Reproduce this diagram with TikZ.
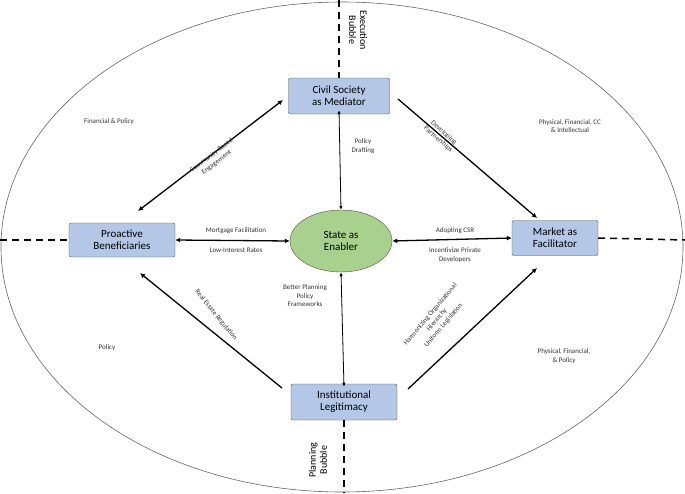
\documentclass[tikz,border=0pt]{standalone}
\usepackage{fontspec}
\setmainfont{Carlito}
\usetikzlibrary{arrows.meta,shapes.geometric}
\begin{document}
\definecolor{box}{RGB}{180,199,231}
\definecolor{grn}{RGB}{169,209,142}
\begin{tikzpicture}[x=1pt,y=-1pt,
 box/.style={draw=black!70,fill=box,rounded corners=2pt,align=center,font=\fontsize{11}{12}\selectfont,inner sep=0pt},
 lbl/.style={font=\fontsize{7}{8.5}\selectfont,align=center,text=black!80},
 arr/.style={line width=1.3pt,-{Latex[length=5pt,width=5pt]}},
 darr/.style={line width=1.3pt,{Latex[length=5pt,width=5pt]}-{Latex[length=5pt,width=5pt]}},
 tarr/.style={line width=0.8pt,{Latex[length=4pt,width=3.5pt]}-{Latex[length=4pt,width=3.5pt]}},
 bdash/.style={line width=1.5pt,dash pattern=on 7pt off 5pt}]
\useasboundingbox (0,0) rectangle (685,493);
\draw[black!60,line width=0.6pt] (342,247) ellipse [x radius=341, y radius=245];
\node[box,minimum width=101,minimum height=36] (cs) at (339,96) {Civil Society\\as Mediator};
\node[box,minimum width=106,minimum height=34] (pb) at (122,240) {Proactive\\Beneficiaries};
\node[box,minimum width=86,minimum height=35] (mf) at (555,238) {Market as\\Facilitator};
\node[box,minimum width=106,minimum height=36] (il) at (344,402) {Institutional\\Legitimacy};
\node[draw=black!70,fill=grn,ellipse,minimum width=102,minimum height=62,inner sep=0pt,align=center,font=\fontsize{11}{12}\selectfont] (st) at (341,241) {State as\\Enabler};
\coordinate (l0) at (0,240); \coordinate (r0) at (685,240);
\coordinate (t0) at (339,0); \coordinate (b0) at (344,493);
\draw[bdash] (l0) -- (pb.west);
\draw[bdash] (mf.east) -- (r0);
\draw[bdash] (t0) -- (cs.north);
\draw[bdash] (il.south) -- (b0);
\node[rotate=-90,font=\fontsize{10}{11}\selectfont,align=center] (eb) at (358,30) {Execution\\Bubble};
\node[rotate=90,font=\fontsize{10}{11}\selectfont,align=center] (pbub) at (318,460) {Planning\\Bubble};
\coordinate (a1) at (138,211); \coordinate (a2) at (283,100);
\draw[darr] (a1) -- (a2);
\node[lbl,rotate=37] (l1) at (214,159) {Community Based\\Engagement};
\coordinate (b1) at (398,99); \coordinate (b2) at (537,218);
\draw[arr] (b1) -- (b2);
\node[lbl,rotate=-41] (l2) at (441,136) {Developing\\Partnerships};
\draw[tarr] ([yshift=4pt]cs.south) -- (st.north);
\node[lbl] (l3) at (363,146) {Policy\\Drafting};
\draw[darr] (pb.east) -- (st.west);
\node[lbl] (l4) at (236,231) {Mortgage Facilitation};
\node[lbl] (l5) at (236,250) {Low-Interest Rates};
\draw[darr] (st.east) -- (mf.west);
\node[lbl] (l6) at (455,231) {Adopting CSR};
\node[lbl] (l7) at (455,255) {Incentivize Private\\Developers};
\coordinate (c1) at (282,388); \coordinate (c2) at (140,273);
\draw[arr] (c1) -- (c2);
\node[lbl,rotate=-51] (l8) at (216,315) {Real Estate Regulation};
\coordinate (d1) at (408,389); \coordinate (d2) at (537,268);
\draw[arr] (d1) -- (d2);
\node[lbl,rotate=50] (l9) at (437,320) {Harmonizing Organizational\\Hierarchy\\Uniform Legislation};
\draw[tarr] (st.south) -- ([yshift=-3pt]il.north);
\node[lbl] (l10) at (305,296) {Better Planning\\Policy\\Frameworks};
\node[lbl] (c1l) at (109,122) {Financial \& Policy};
\node[lbl] (c2l) at (570,126) {Physical, Financial, CC\\\& Intellectual};
\node[lbl] (c3l) at (107,348) {Policy};
\node[lbl] (c4l) at (564,356) {Physical, Financial,\\\& Policy};
\end{tikzpicture}
\end{document}
